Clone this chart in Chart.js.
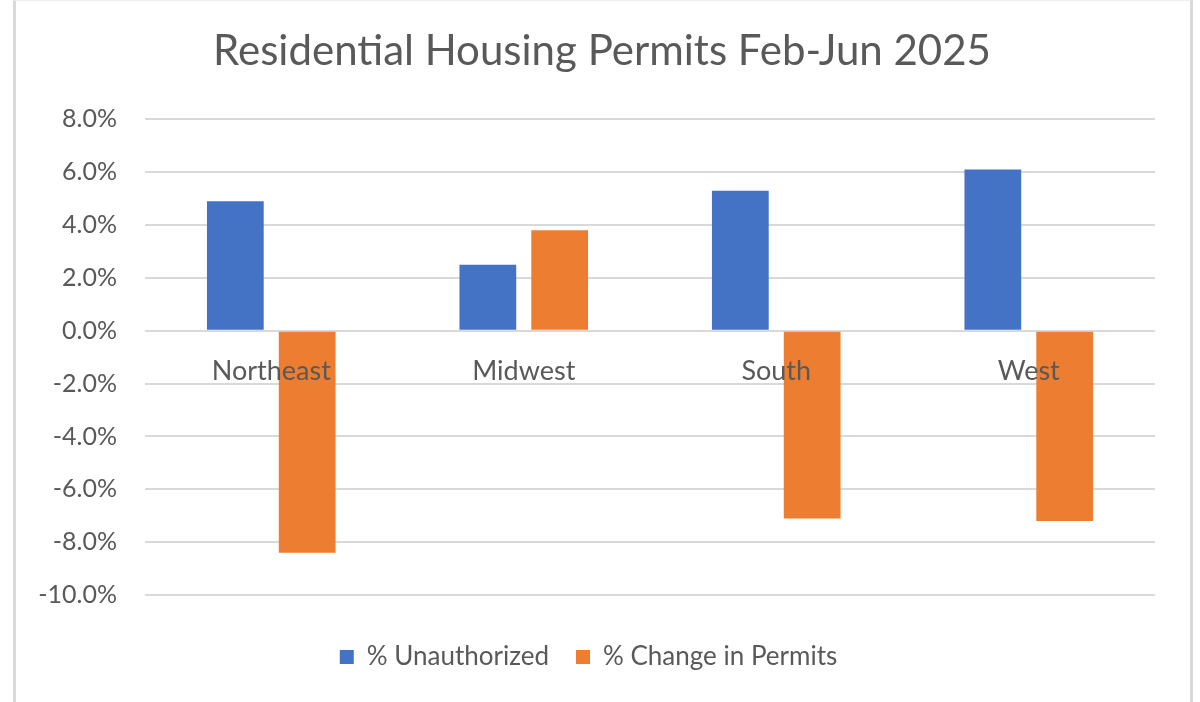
<!DOCTYPE html>
<html>
<head>
<meta charset="utf-8">
<script src="https://cdn.jsdelivr.net/npm/chart.js@4.4.1/dist/chart.umd.min.js"></script>
<style>
  html, body { margin: 0; padding: 0; background: #ffffff; }
  #wrap { position: relative; width: 1200px; height: 702px; }
</style>
</head>
<body>
<div id="wrap"><canvas id="c" width="1200" height="702"></canvas></div>
<script>
const categories = ["Northeast", "Midwest", "South", "West"];
const seriesNames = ["% Unauthorized", "% Change in Permits"];
const unauthorized = [4.9, 2.5, 5.3, 6.1];
const changeInPermits = [-8.4, 3.8, -7.1, -7.2];
const yMin = -10, yMax = 8, yStep = 2;
const titleText = "Residential Housing Permits Feb-Jun 2025";

const FONT = "Lato, 'Open Sans', sans-serif";
const TEXT = "#595959";
const GRID = "#D9D9D9";

const frame = {
  id: "frame",
  beforeDraw(chart) {
    const ctx = chart.ctx;
    ctx.save();
    ctx.fillStyle = "#ffffff";
    ctx.fillRect(0, 0, chart.width, chart.height);
    ctx.strokeStyle = "#D9D9D9";
    ctx.lineWidth = 3;
    ctx.beginPath();
    ctx.moveTo(14.5, 0); ctx.lineTo(14.5, chart.height);
    ctx.moveTo(1191.5, 0); ctx.lineTo(1191.5, chart.height);
    ctx.stroke();
    ctx.strokeStyle = "#EEEEEE";
    ctx.lineWidth = 1;
    ctx.beginPath();
    ctx.moveTo(14, 0.5); ctx.lineTo(1191, 0.5);
    ctx.stroke();
    ctx.restore();
  }
};

// centre title and legend as in the reference
const boxShift = {
  id: "boxShift",
  afterLayout(chart) {
    const t = chart.titleBlock;
    if (t) { t.left = 49; t.right = chart.width - 45; }
    const l = chart.legend;
    if (l) { l.left += 11; l.right += 11; }
  }
};

// Category labels drawn on top of bars, next to the zero line (as in the reference)
const catLabels = {
  id: "catLabels",
  afterDatasetsDraw(chart) {
    const ctx = chart.ctx;
    const xs = chart.scales.x, ys = chart.scales.y;
    const y0 = ys.getPixelForValue(0);
    ctx.save();
    ctx.fillStyle = TEXT;
    ctx.font = "27px " + FONT;
    ctx.textAlign = "center";
    ctx.textBaseline = "middle";
    categories.forEach((c, i) => {
      ctx.fillText(c, xs.getPixelForTick(i), y0 + 41);
    });
    ctx.restore();
  }
};

new Chart(document.getElementById("c"), {
  type: "bar",
  data: {
    labels: categories,
    datasets: [
      { label: seriesNames[0], data: unauthorized, backgroundColor: "#4472C4", borderWidth: 0 },
      { label: seriesNames[1], data: changeInPermits, backgroundColor: "#ED7D31", borderWidth: 0 }
    ]
  },
  options: {
    responsive: false,
    animation: false,
    devicePixelRatio: 1,
    layout: { padding: { left: 0, right: 45, top: 0, bottom: 22 } },
    datasets: { bar: { categoryPercentage: 0.569, barPercentage: 0.79 } },
    plugins: {
      title: {
        display: true,
        text: titleText,
        color: TEXT,
        font: { family: FONT, size: 42, weight: "normal" },
        padding: { top: 26, bottom: 43 }
      },
      legend: {
        position: "bottom",
        title: { display: true, text: " ", font: { size: 10 }, padding: { top: 0, bottom: 10 } },
        labels: {
          color: TEXT,
          font: { family: FONT, size: 26 },
          boxWidth: 14,
          boxHeight: 14,
          padding: 27
        }
      },
      tooltip: { enabled: false }
    },
    scales: {
      x: {
        position: { y: 0 },
        grid: { display: false, drawTicks: false },
        border: { display: false },
        ticks: { display: false }
      },
      y: {
        min: yMin,
        max: yMax,
        afterFit(scale) { scale.width = 145; },
        grid: { color: GRID, lineWidth: 2, drawTicks: false },
        border: { display: false },
        ticks: {
          stepSize: yStep,
          color: TEXT,
          font: { family: FONT, size: 25 },
          padding: 28,
          callback: v => v.toFixed(1) + "%"
        }
      }
    }
  },
  plugins: [frame, boxShift, catLabels]
});
</script>
</body>
</html>
